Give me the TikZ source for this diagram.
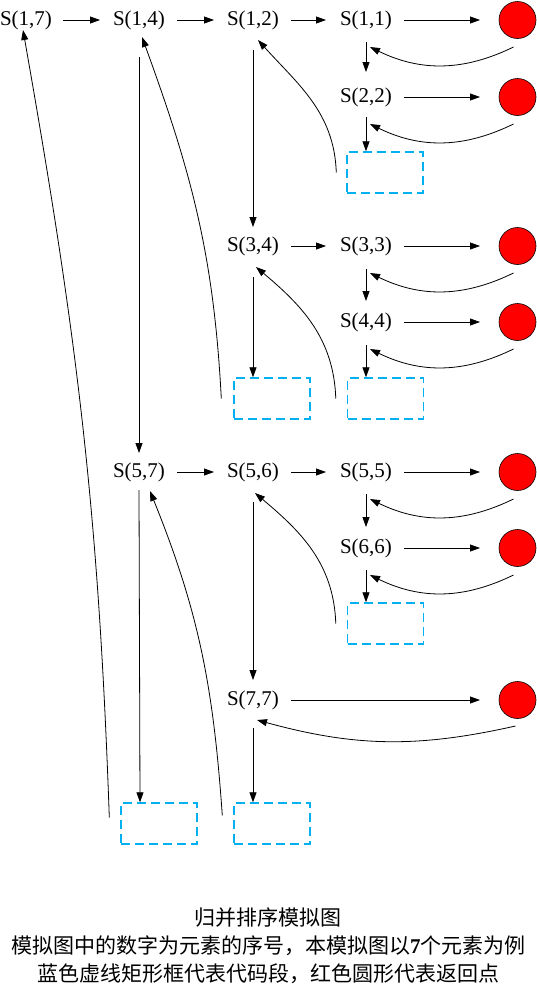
\documentclass[tikz,border=0pt]{standalone}
\usepackage{fontspec}
\setmainfont{Liberation Serif}
\newfontfamily\cjk{Noto Sans CJK SC}
\usetikzlibrary{arrows.meta}
\definecolor{boxblue}{RGB}{0,176,240}
\tikzset{
  lbl/.style={inner sep=0pt, font=\fontsize{21}{24}\selectfont},
  ret/.style={circle, draw=black, line width=0.6pt, fill=red, minimum size=37pt, inner sep=0pt},
  code/.style={draw=boxblue, line width=1.4pt, dash pattern=on 9pt off 5pt, minimum width=76pt, minimum height=41pt, inner sep=0pt},
  arr/.style={line width=0.8pt, -{Triangle[length=10pt,width=7pt]}},
  ln/.style={line width=0.8pt}
}
\begin{document}
\begin{tikzpicture}[x=1pt,y=-1pt]
\useasboundingbox (0,0) rectangle (537,989);
% labels
\node[lbl] (n17) at (26,20) {S(1,7)};
\node[lbl] (n14) at (139,20) {S(1,4)};
\node[lbl] (n12) at (253,20) {S(1,2)};
\node[lbl] (n11) at (366,20) {S(1,1)};
\node[lbl] (n22) at (366,97) {S(2,2)};
\node[lbl] (n34) at (253,246) {S(3,4)};
\node[lbl] (n33) at (366,246) {S(3,3)};
\node[lbl] (n44) at (366,322) {S(4,4)};
\node[lbl] (n57) at (139,472) {S(5,7)};
\node[lbl] (n56) at (253,472) {S(5,6)};
\node[lbl] (n55) at (366,472) {S(5,5)};
\node[lbl] (n66) at (366,548) {S(6,6)};
\node[lbl] (n77) at (253,700) {S(7,7)};
% return points
\node[ret] (c1) at (517.5,20) {};
\node[ret] (c2) at (517.5,97) {};
\node[ret] (c3) at (517.5,246) {};
\node[ret] (c4) at (517.5,322) {};
\node[ret] (c5) at (517.5,472) {};
\node[ret] (c6) at (517.5,548) {};
\node[ret] (c7) at (517.5,700) {};
% code boxes
\node[code] (b1) at (385,172.5) {};
\node[code] (b2) at (272,398.5) {};
\node[code] (b3) at (385.5,398.5) {};
\node[code] (b4) at (385.5,623.5) {};
\node[code] (b5) at (159,823.5) {};
\node[code] (b6) at (272,823.5) {};
% horizontal arrows
\draw[arr] ([xshift=37pt]n17.center) -- ([xshift=-39pt]n14.center);
\draw[arr] ([xshift=38pt]n14.center) -- ([xshift=-39pt]n12.center);
\draw[arr] ([xshift=38pt]n12.center) -- ([xshift=-40pt]n11.center);
\draw[arr] ([xshift=38pt]n34.center) -- ([xshift=-40pt]n33.center);
\draw[arr] ([xshift=38pt]n57.center) -- ([xshift=-39pt]n56.center);
\draw[arr] ([xshift=38pt]n56.center) -- ([xshift=-40pt]n55.center);
\foreach \n/\c in {n11/c1,n22/c2,n33/c3,n44/c4,n55/c5,n66/c6,n77/c7}
  \draw[arr] ([xshift=38pt]\n.center) -- ([xshift=-37.5pt]\c.center);
% vertical arrows
\draw[arr] ([yshift=-22pt]n11.center) -- ([yshift=25pt]n22.center);
\draw[arr] ([yshift=-20pt]n22.center) -- ([xshift=-19pt]b1.north);
\draw[arr] ([yshift=-23pt]n33.center) -- ([yshift=21pt]n44.center);
\draw[arr] ([yshift=-23pt]n44.center) -- ([xshift=-19.5pt]b3.north);
\draw[arr] ([yshift=-22pt]n55.center) -- ([yshift=21pt]n66.center);
\draw[arr] ([yshift=-22pt]n66.center) -- ([xshift=-19.5pt]b4.north);
\draw[arr] ([yshift=-30pt]n12.center) -- ([yshift=19pt]n34.center);
\draw[arr] ([yshift=-31pt]n34.center) -- ([xshift=-19pt]b2.north);
\draw[arr] ([yshift=-30pt]n56.center) -- ([yshift=20pt]n77.center);
\draw[arr] ([yshift=-28pt]n77.center) -- ([xshift=-19pt]b6.north);
\draw[arr] ([yshift=-37pt]n14.center) -- ([yshift=19pt]n57.center);
\draw[arr] ([yshift=-18pt]n57.center) -- ([xshift=-19pt]b5.north);
% returns from circles
\foreach \c/\n in {c1/n11,c2/n22,c3/n33,c4/n44,c5/n55,c6/n66}
  \draw[arr] ([xshift=-4pt,yshift=-27pt]\c.center) to[bend left=26] ([xshift=4pt,yshift=-27pt]\n.center);
\draw[arr] ([xshift=-2pt,yshift=-26pt]c7.center) to[bend left=14] ([xshift=4pt,yshift=-20pt]n77.center);
% returns from code boxes
\draw[arr] ([xshift=-10pt]b1.west) to[out=92,in=-48] ([xshift=5pt,yshift=-20pt]n12.center);
\draw[arr] ([xshift=-11pt]b3.west) to[out=92,in=-40] ([xshift=3pt,yshift=-21pt]n34.center);
\draw[arr] ([xshift=-11pt]b4.west) to[out=92,in=-40] ([xshift=2pt,yshift=-21pt]n56.center);
\draw[arr] ([xshift=-12pt]b2.west) to[out=93,in=-70] ([xshift=3pt,yshift=-17pt]n14.center);
\draw[arr] ([xshift=-11pt,yshift=8pt]b6.west) to[out=94,in=-68] ([xshift=11pt,yshift=-19pt]n57.center);
\draw[arr] ([xshift=-11pt,yshift=6pt]b5.west) to[out=92,in=-80] ([xshift=-3pt,yshift=-10pt]n17.center);
% caption
\node[align=center, inner sep=0pt, font=\cjk\fontsize{21}{28}\selectfont] (cap) at (268.5,946)
  {归并排序模拟图\\模拟图中的数字为元素的序号，本模拟图以{\rmfamily\bfseries 7}个元素为例\\蓝色虚线矩形框代表代码段，红色圆形代表返回点};
\end{tikzpicture}
\end{document}
